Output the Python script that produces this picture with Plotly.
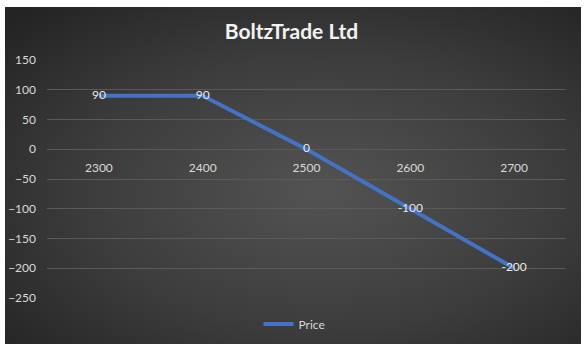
import base64
import plotly.graph_objects as go

categories = ["2300", "2400", "2500", "2600", "2700"]
price = [90, 90, 0, -100, -200]
series_name = "Price"
title_text = "BoltzTrade Ltd"

W, H = 587, 351
L, R, T, B = 47, 566, 60, 298  # plot area px

def px_x(p):
    return (p - L) / (R - L)

def px_y(p):
    return (B - p) / (B - T)

svg = (
    '<svg xmlns="http://www.w3.org/2000/svg" width="576" height="337" viewBox="0 0 576 337" preserveAspectRatio="none">'
    '<defs><radialGradient id="g" cx="0.55" cy="0.55" r="0.75" fx="0.55" fy="0.55">'
    '<stop offset="0" stop-color="#535353"/>'
    '<stop offset="0.55" stop-color="#3c3c3c"/>'
    '<stop offset="1" stop-color="#232323"/>'
    '</radialGradient></defs>'
    '<rect width="576" height="337" fill="url(#g)"/></svg>'
)
src = "data:image/svg+xml;base64," + base64.b64encode(svg.encode()).decode()

fig = go.Figure()
fig.add_trace(go.Scatter(
    x=categories, y=price, name=series_name,
    mode="lines+text",
    text=[str(v) for v in price],
    textposition="middle center",
    textfont=dict(family="Lato", size=12, color="#e8e8e8"),
    line=dict(color="#4472C4", width=4),
    cliponaxis=False,
))

fig.add_layout_image(dict(
    source=src, xref="paper", yref="paper",
    x=px_x(5), y=px_y(7),
    sizex=px_x(581) - px_x(5), sizey=px_y(7) - px_y(344),
    xanchor="left", yanchor="top", sizing="stretch", layer="below",
))

fig.update_layout(
    width=W, height=H,
    margin=dict(l=L, r=W - R, t=T, b=H - B, autoexpand=False),
    paper_bgcolor="white",
    plot_bgcolor="rgba(0,0,0,0)",
    font=dict(family="Lato", size=12, color="#d9d9d9"),
    title=dict(
        text="<b>" + title_text + "</b>",
        font=dict(family="Lato", size=21, color="#f2f2f2"),
        x=291.5 / W, xanchor="center", xref="container",
        y=1 - 32 / H, yanchor="middle", yref="container",
        automargin=False,
    ),
    showlegend=True,
    legend=dict(
        orientation="h", x=px_x(294.5), xanchor="center",
        y=px_y(324), yanchor="middle",
        font=dict(family="Lato", size=12, color="#d9d9d9"),
        bgcolor="rgba(0,0,0,0)",
    ),
    xaxis=dict(
        type="category", anchor="free", position=px_y(149.3),
        range=[-0.5, len(categories) - 0.5],
        showgrid=False, showline=False, zeroline=False, automargin=False,
        ticks="", ticklabelstandoff=10,
        tickfont=dict(family="Lato", size=12, color="#d9d9d9"),
    ),
    yaxis=dict(
        range=[-250, 150], dtick=50, tick0=0, automargin=False,
        showgrid=True, gridcolor="#5a5a5a", gridwidth=1,
        zeroline=True, zerolinecolor="#5a5a5a", zerolinewidth=1,
        showline=False, ticks="", ticklabelstandoff=10,
        tickfont=dict(family="Lato", size=12, color="#d9d9d9"),
    ),
)

fig.write_html("out.html")
